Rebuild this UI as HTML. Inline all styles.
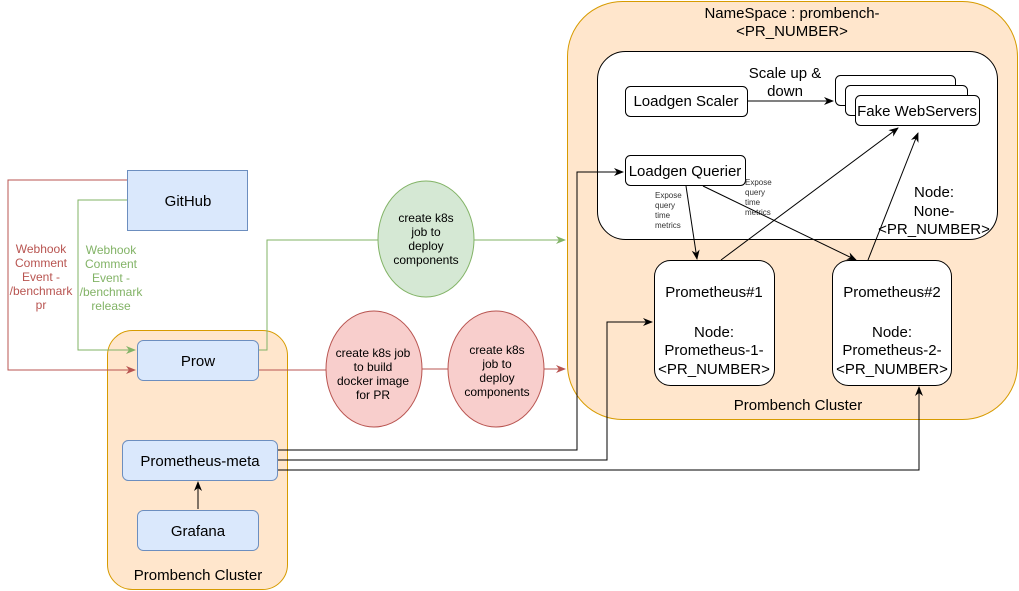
<!DOCTYPE html>
<html><head><style>body{margin:0;background:#fff}svg{display:block}text{font-family:"Liberation Sans",sans-serif}</style></head>
<body>
<svg width="1019" height="591" viewBox="0 0 1019 591" xmlns="http://www.w3.org/2000/svg">
<defs>
<marker id="ak" markerWidth="10" markerHeight="10" refX="9" refY="5" orient="auto" markerUnits="userSpaceOnUse"><path d="M0,1 L10,5 L0,9 L3,5 z" fill="#000"/></marker>
<marker id="ag" markerWidth="10" markerHeight="10" refX="9" refY="5" orient="auto" markerUnits="userSpaceOnUse"><path d="M0,1 L10,5 L0,9 L3,5 z" fill="#82b366"/></marker>
<marker id="ar" markerWidth="10" markerHeight="10" refX="9" refY="5" orient="auto" markerUnits="userSpaceOnUse"><path d="M0,1 L10,5 L0,9 L3,5 z" fill="#b85450"/></marker>
</defs>
<rect x="567.5" y="1.5" width="450" height="418" rx="55" fill="#ffe6cc" stroke="#d79b00"/>
<rect x="107.5" y="330.5" width="180" height="259" rx="25" fill="#ffe6cc" stroke="#d79b00"/>
<rect x="597.5" y="51.5" width="400" height="188" rx="28" fill="#fff" stroke="#000"/>
<g font-size="15" text-anchor="middle" fill="#000">
<text x="792" y="18">NameSpace : prombench-</text><text x="792" y="36">&lt;PR_NUMBER&gt;</text>
<text x="798" y="410">Prombench Cluster</text>
<text x="198" y="580">Prombench Cluster</text>
</g>
<rect x="625.5" y="86.5" width="122" height="30" rx="5" fill="#fff" stroke="#000"/>
<rect x="835.5" y="75.5" width="120" height="30" rx="5" fill="#fff" stroke="#000"/>
<rect x="845.5" y="85.5" width="122" height="30" rx="5" fill="#fff" stroke="#000"/>
<rect x="855.5" y="95.5" width="124" height="30" rx="5" fill="#fff" stroke="#000"/>
<rect x="625.5" y="155.5" width="120" height="30" rx="5" fill="#fff" stroke="#000"/>
<rect x="654.5" y="260.5" width="120" height="125" rx="16" fill="#fff" stroke="#000"/>
<rect x="832.5" y="260.5" width="119" height="125" rx="16" fill="#fff" stroke="#000"/>
<g font-size="15" text-anchor="middle">
<text x="686" y="106">Loadgen Scaler</text>
<text x="917" y="116">Fake WebServers</text>
<text x="685" y="176">Loadgen Querier</text>
<text x="785" y="78">Scale up &amp;</text><text x="785" y="96">down</text>
<text x="934" y="197">Node:</text><text x="934" y="216">None-</text><text x="934" y="234">&lt;PR_NUMBER&gt;</text>
<text x="714" y="297">Prometheus#1</text>
<text x="714" y="337">Node:</text><text x="714" y="355">Prometheus-1-</text><text x="714" y="374">&lt;PR_NUMBER&gt;</text>
<text x="892" y="297">Prometheus#2</text>
<text x="892" y="337">Node:</text><text x="892" y="355">Prometheus-2-</text><text x="892" y="374">&lt;PR_NUMBER&gt;</text>
</g>
<g font-size="8" fill="#333">
<text x="655" y="198">Expose</text><text x="655" y="208">query</text><text x="655" y="218">time</text><text x="655" y="228">metrics</text>
<text x="745" y="185">Expose</text><text x="745" y="195">query</text><text x="745" y="205">time</text><text x="745" y="215">metrics</text>
</g>
<g stroke="#000" fill="none" stroke-width="1">
<path d="M748,101 H833" marker-end="url(#ak)"/>
<path d="M686,186 L697,259" marker-end="url(#ak)"/>
<path d="M703,186 L856,260" marker-end="url(#ak)"/>
<path d="M721,260 L898,128" marker-end="url(#ak)"/>
<path d="M868,260 L918,133" marker-end="url(#ak)"/>
<path d="M277,450 H577 V172 H623" marker-end="url(#ak)"/>
<path d="M277,460 H607 V322 H652" marker-end="url(#ak)"/>
<path d="M277,470 H919 V387" marker-end="url(#ak)"/>
<path d="M198,509 V482" marker-end="url(#ak)"/>
</g>
<rect x="127.5" y="170.5" width="120" height="60" fill="#dae8fc" stroke="#6c8ebf"/>
<rect x="137.5" y="340.5" width="121" height="40" rx="6" fill="#dae8fc" stroke="#6c8ebf"/>
<rect x="122.5" y="440.5" width="155" height="40" rx="6" fill="#dae8fc" stroke="#6c8ebf"/>
<rect x="137.5" y="510.5" width="121" height="40" rx="6" fill="#dae8fc" stroke="#6c8ebf"/>
<g font-size="15" text-anchor="middle">
<text x="188" y="206">GitHub</text><text x="198" y="366">Prow</text><text x="200" y="466">Prometheus-meta</text><text x="198" y="536">Grafana</text>
</g>
<g fill="none">
<path d="M127,180 H8 V370 H135" stroke="#b85450" marker-end="url(#ar)"/>
<path d="M127,200 H78 V350 H135" stroke="#82b366" marker-end="url(#ag)"/>
<path d="M259,350 H267 V240 H378 M474,240 H565" stroke="#82b366" marker-end="url(#ag)"/>
<path d="M259,370 H326 M422,369 H448 M544,369 H565" stroke="#b85450" marker-end="url(#ar)"/>
</g>
<ellipse cx="426" cy="239" rx="48" ry="58" fill="#d5e8d4" stroke="#82b366"/>
<ellipse cx="374" cy="369" rx="48" ry="58" fill="#f8cecc" stroke="#b85450"/>
<ellipse cx="496" cy="369" rx="48" ry="58" fill="#f8cecc" stroke="#b85450"/>
<g font-size="12" text-anchor="middle">
<text x="426" y="222">create k8s</text><text x="426" y="236">job to</text><text x="426" y="250">deploy</text><text x="426" y="264">components</text>
<text x="373" y="357">create k8s job</text><text x="373" y="371">to build</text><text x="373" y="385">docker image</text><text x="373" y="399">for PR</text>
<text x="497" y="354">create k8s</text><text x="497" y="368">job to</text><text x="497" y="382">deploy</text><text x="497" y="396">components</text>
</g>
<g font-size="12" text-anchor="middle" fill="#b85450">
<text x="41" y="253">Webhook</text><text x="41" y="267">Comment</text><text x="41" y="281">Event -</text><text x="41" y="295">/benchmark</text><text x="41" y="309">pr</text>
</g>
<g font-size="12" text-anchor="middle" fill="#82b366">
<text x="111" y="254">Webhook</text><text x="111" y="268">Comment</text><text x="111" y="282">Event -</text><text x="111" y="296">/benchmark</text><text x="111" y="310">release</text>
</g>
</svg>
</body></html>
